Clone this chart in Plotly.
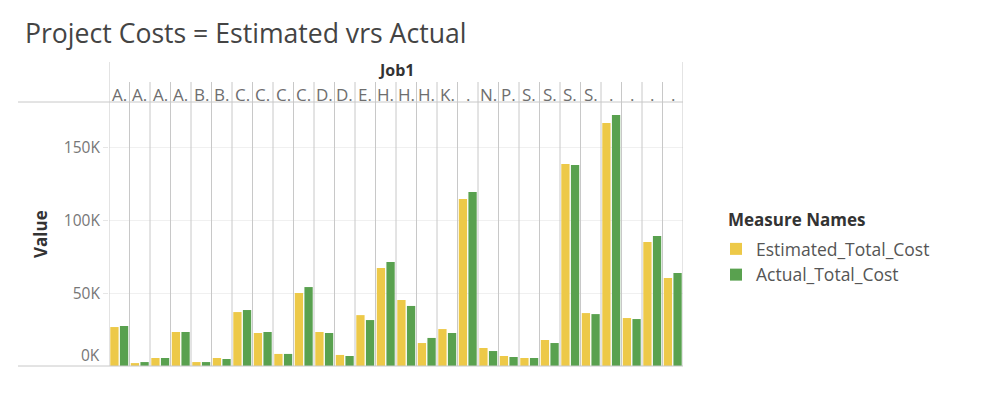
import plotly.graph_objects as go

job_labels = ["A.", "A.", "A.", "A.", "B.", "B.", "C.", "C.", "C.", "C.", "D.", "D.", "E.",
              "H.", "H.", "H.", "K.", ".", "N.", "P.", "S.", "S.", "S.", "S.", ".", ".", ".", "."]
estimated_total_cost = [26800, 2000, 5500, 23400, 2700, 5500, 37100, 22700, 8300, 50200, 23400, 7600, 35000,
                        67400, 45400, 15800, 25400, 114900, 12400, 6900, 5500, 17900, 139000, 36400,
                        167200, 33000, 85300, 60500]
actual_total_cost = [27500, 2700, 5500, 23400, 2700, 4800, 38500, 23400, 8300, 54300, 22700, 6900, 31600,
                     71500, 41300, 19300, 22700, 119700, 10300, 6200, 5500, 15800, 138300, 35700,
                     172600, 32300, 89400, 64000]
y_tick_vals = [0, 50000, 100000, 150000]
y_tick_text = ["0K", "50K", "100K", "150K"]

FONT = "Open Sans"
OFF = 8  # page body margin
W, H = 984 - OFF, 400 - OFF
# plot area in window pixels: x 109..683, y 102..366
L, T = 109 - OFF, 102 - OFF
R = W - (683 - OFF)
B = H - (366 - OFF)
plot_w = W - L - R
plot_h = H - T - B

def px_x(px):
    return (px - OFF - L) / plot_w

def px_y(py):
    return (H - B - (py - OFF)) / plot_h

n = len(job_labels)
xs = list(range(n))

fig = go.Figure()
fig.add_trace(go.Bar(x=xs, y=estimated_total_cost, name="Estimated_Total_Cost",
                     marker=dict(color="#EDC948", line=dict(width=0))))
fig.add_trace(go.Bar(x=xs, y=actual_total_cost, name="Actual_Total_Cost",
                     marker=dict(color="#59A14F", line=dict(width=0))))

shapes = []
grid_col = "#c8c8c8"
for i in range(n + 1):
    xb = i - 0.5
    top = px_y(62) if i in (0, n) else px_y(82)
    shapes.append(dict(type="line", xref="x", yref="paper", x0=xb, x1=xb, y0=0, y1=top,
                       line=dict(color=grid_col, width=1), layer="above"))
for py in (102, 366):
    shapes.append(dict(type="line", xref="paper", yref="paper", x0=px_x(18), x1=1,
                       y0=px_y(py), y1=px_y(py), line=dict(color=grid_col, width=1)))

annotations = []
for i, lab in enumerate(job_labels):
    annotations.append(dict(x=i, y=px_y(82), xref="x", yref="paper", text=lab, showarrow=False,
                            font=dict(family=FONT, size=17, color="#6e6e6e"), borderpad=0,
                            xanchor="center", yanchor="top"))
annotations.append(dict(x=0.5, y=px_y(82), xref="paper", yref="paper", text="<b>Job1</b>",
                        showarrow=False, font=dict(family=FONT, size=16, color="#333333"), borderpad=0,
                        xanchor="center", yanchor="bottom"))
annotations.append(dict(x=px_x(40), y=0.5, xref="paper", yref="paper", text="<b>Value</b>",
                        showarrow=False, textangle=-90, font=dict(family=FONT, size=17, color="#333333"),
                        xanchor="center", yanchor="middle"))
annotations.append(dict(x=px_x(102), y=0, xref="paper", yref="y", text=y_tick_text[0],
                        showarrow=False, font=dict(family=FONT, size=15.5, color="#777777"),
                        xanchor="right", yanchor="middle", yshift=11))
annotations.append(dict(x=px_x(726), y=px_y(219), xref="paper", yref="paper",
                        text="<b>Measure Names</b>", showarrow=False,
                        font=dict(family=FONT, size=17, color="#333333"),
                        xanchor="left", yanchor="middle"))

fig.update_layout(
    width=W, height=H,
    margin=dict(l=L, r=R, t=T, b=B),
    paper_bgcolor="white", plot_bgcolor="white",
    barmode="group", bargap=0.06, bargroupgap=0.14,
    title=dict(text="Project Costs = Estimated vrs Actual", x=(25 - OFF) / W, xanchor="left",
               y=1 - (34 - OFF) / H, yanchor="middle",
               font=dict(family=FONT, size=26.6, color="#444444")),
    xaxis=dict(range=[-0.5, n - 0.5], showticklabels=False, showgrid=False, zeroline=False,
               ticks="", fixedrange=True),
    yaxis=dict(range=[0, 181600], tickvals=y_tick_vals[1:], ticktext=y_tick_text[1:],
               showgrid=True, gridcolor="#f0f0f0", gridwidth=1, zeroline=False,
               ticks="outside", ticklen=5, tickcolor="#e6e6e6",
               tickfont=dict(family=FONT, size=15.5, color="#777777")),
    shapes=shapes,
    annotations=annotations,
    showlegend=True,
    legend=dict(x=px_x(716), y=px_y(231), xanchor="left", yanchor="top",
                font=dict(family=FONT, size=17.5, color="#555555"),
                itemsizing="constant", tracegroupgap=0, bgcolor="rgba(0,0,0,0)"),
)

fig.write_html("out.html")
